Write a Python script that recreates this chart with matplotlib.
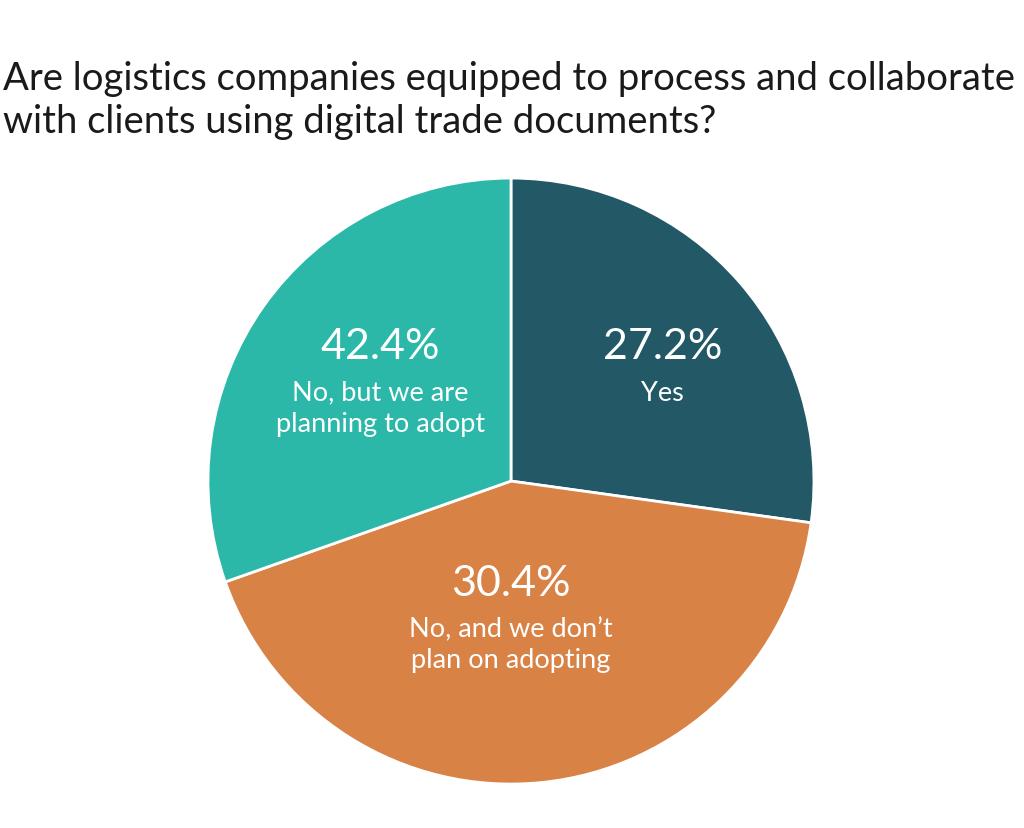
import matplotlib
matplotlib.use("Agg")
import matplotlib.pyplot as plt

sizes = [27.2, 42.4, 30.4]
pct_labels = ["27.2%", "30.4%", "42.4%"]
desc_labels = ["Yes", "No, and we don\u2019t\nplan on adopting", "No, but we are\nplanning to adopt"]
colors = ["#235866", "#d98245", "#2bb8a9"]
label_pos = [(0.50, 0.445), (0.0, -0.335), (-0.43, 0.445)]

plt.rcParams['font.family'] = ['Lato', 'DejaVu Sans']
fig = plt.figure(figsize=(10.24, 8.29), dpi=100)
fig.text(0.003, 0.879, "Are logistics companies equipped to process and collaborate\nwith clients using digital trade documents?",
         fontsize=27.5, color="#1a1a1a", va="center", ha="left", linespacing=1.25)
ax = fig.add_axes([0.203, 0.053, 0.592, 0.731])
ax.pie(sizes, colors=colors, startangle=90, counterclock=False,
       wedgeprops=dict(edgecolor="white", linewidth=2))
for (x, y), p, d in zip(label_pos, pct_labels, desc_labels):
    ax.text(x, y, p, ha="center", va="center", color="white", fontsize=31)
    ax.text(x, y - 0.11, d, ha="center", va="top", color="white", fontsize=19.5, linespacing=1.3)
ax.set_xlim(-1, 1); ax.set_ylim(-1, 1)
ax.set_aspect("equal")
fig.savefig("out.png", dpi=100)
